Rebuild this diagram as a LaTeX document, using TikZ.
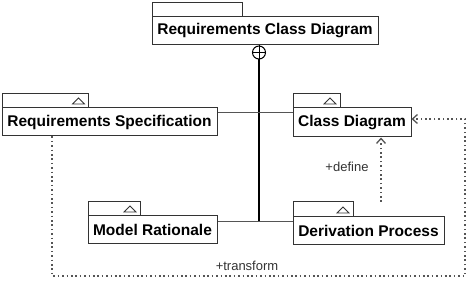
\documentclass[tikz,border=0pt]{standalone}
\usepackage{fontspec}
\setmainfont{Liberation Sans}
\usetikzlibrary{arrows.meta,calc}
\definecolor{ln}{HTML}{333333}
\definecolor{lg}{HTML}{555555}
\begin{document}
\begin{tikzpicture}[x=1pt,y=-1pt,
  pkg/.style={draw=ln,line width=1pt,fill=white,inner sep=0pt,font=\bfseries\fontsize{15.5}{18}\selectfont},
  tab/.style={draw=ln,line width=1pt,fill=white},
  tri/.style={draw=ln,line width=0.8pt},
  lbl/.style={font=\fontsize{13}{15}\selectfont,text=ln},
  solid line/.style={draw=lg,line width=1pt},
  dep/.style={draw=lg,line width=1.3pt,dash pattern=on 1.6pt off 2.8pt,-{Straight Barb[length=5pt,width=9pt]}}]
\useasboundingbox (0,0) rectangle (474,283);

% tabs
\draw[tab] (152,3) rectangle (242,17);
\draw[tab] (2,94) rectangle (88,108);
\draw[tri] (72.5,104) -- (78.5,98) -- (84.5,104) -- cycle;
\draw[tab] (293,94) rectangle (340,108);
\draw[tri] (324,104) -- (330,98) -- (336,104) -- cycle;
\draw[tab] (88,202) rectangle (140,216);
\draw[tri] (124,212) -- (130,206) -- (136,212) -- cycle;
\draw[tab] (293,202) rectangle (353,217);
\draw[tri] (337,213) -- (343,207) -- (349,213) -- cycle;

% bodies
\node[pkg,minimum width=226pt,minimum height=28pt] (rcd) at (265,31) {Requirements Class Diagram};
\node[pkg,minimum width=215pt,minimum height=28pt] (rs) at (109.5,122) {Requirements Specification};
\node[pkg,minimum width=118pt,minimum height=29pt] (cd) at (352,122.5) {Class Diagram};
\node[pkg,minimum width=129pt,minimum height=28pt] (mr) at (152.5,230) {Model Rationale};
\node[pkg,minimum width=151pt,minimum height=28pt] (dp) at (368.5,231) {Derivation Process};

% containment
\node[circle,draw=black,line width=1pt,minimum size=13pt,inner sep=0pt] (circ) at (259,52.5) {};
\draw[draw=black,line width=0.9pt] (circ.north) -- (circ.south);
\draw[draw=black,line width=0.9pt] (circ.west) -- (circ.east);
\coordinate (jn) at (259,222.5);
\draw[draw=black,line width=2pt] (circ.south) -- (jn);
\draw[solid line] ([yshift=9pt]rs.east) -- ([yshift=9pt]rs.east -| cd.west);
\draw[solid line] ([yshift=8pt]mr.east) -- ([yshift=8pt]mr.east -| dp.west);

% dependencies
\coordinate (d1) at (381,202);
\draw[dep] (d1) -- (d1 |- cd.south);
\node[lbl] (deflbl) at (347,167) {+define};
\coordinate (c1) at (52,276);
\coordinate (c2) at (465,276);
\draw[dep] (rs.south -| c1) -- (c1) -- (c2) |- ([yshift=3.5pt]cd.east);
\node[lbl] (trlbl) at (247,266) {+transform};
\end{tikzpicture}
\end{document}
